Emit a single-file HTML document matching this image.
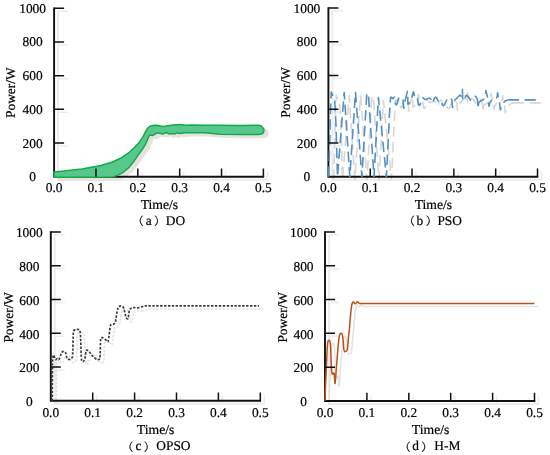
<!DOCTYPE html>
<html><head><meta charset="utf-8"><style>
html,body{margin:0;padding:0;background:#fff;}
svg{display:block;}
text{font-family:'Liberation Serif', 'Noto Serif CJK SC', serif;font-size:13.4px;fill:#000;stroke:#000;stroke-width:0.2px;}
.p{font-size:11.2px;}
</style></head><body>
<svg width="550" height="455" viewBox="0 0 550 455" text-rendering="geometricPrecision">
<defs>
<filter id="fa" x="-5%" y="-5%" width="115%" height="115%" color-interpolation-filters="sRGB">
<feGaussianBlur in="SourceAlpha" stdDeviation="0.6" result="b"/>
<feOffset in="b" dx="3.8" dy="3" result="o"/>
<feFlood flood-color="#ececec"/>
<feComposite in2="o" operator="in"/>
</filter>
<filter id="fg" x="-5%" y="-5%" width="115%" height="115%" color-interpolation-filters="sRGB">
<feGaussianBlur in="SourceAlpha" stdDeviation="0.7" result="b"/>
<feOffset in="b" dx="3.5" dy="2.6" result="o"/>
<feFlood flood-color="#e9e0e0"/>
<feComposite in2="o" operator="in"/>
</filter>
<filter id="fc" x="-5%" y="-5%" width="115%" height="115%" color-interpolation-filters="sRGB">
<feGaussianBlur in="SourceAlpha" stdDeviation="0.5" result="b"/>
<feOffset in="b" dx="4" dy="3.4" result="o"/>
<feFlood flood-color="#e3e2e0"/>
<feComposite in2="o" operator="in"/>
</filter>
<filter id="fb" x="-5%" y="-5%" width="115%" height="115%" color-interpolation-filters="sRGB">
<feGaussianBlur in="SourceAlpha" stdDeviation="0.5" result="b"/>
<feOffset in="b" dx="5" dy="3.3" result="o"/>
<feFlood flood-color="#d9d6d3"/>
<feComposite in2="o" operator="in"/>
</filter>
</defs>
<rect width="550" height="455" fill="#fff"/>

<g filter="url(#fa)"><path d="M54.1,7.45 L54.1,176.8 L264.15,176.8" fill="none" stroke="#000" stroke-width="1.9"/><path d="M54.1,8.2 L64.1,8.2 M263.4,176.8 L263.4,168.5 M54.1,143.08 L64.1,143.08 M54.1,109.36 L64.1,109.36 M54.1,75.64 L64.1,75.64 M54.1,41.92 L64.1,41.92 M95.96,176.8 L95.96,168.5 M137.82,176.8 L137.82,168.5 M179.68,176.8 L179.68,168.5 M221.54,176.8 L221.54,168.5" fill="none" stroke="#000" stroke-width="1.5"/><path d="M328.4,7.25 L328.4,176.8 L538.25,176.8" fill="none" stroke="#000" stroke-width="1.9"/><path d="M328.4,8 L338.4,8 M537.5,176.8 L537.5,168.5 M328.4,143.04 L338.4,143.04 M328.4,109.28 L338.4,109.28 M328.4,75.52 L338.4,75.52 M328.4,41.76 L338.4,41.76 M370.22,176.8 L370.22,168.5 M412.04,176.8 L412.04,168.5 M453.86,176.8 L453.86,168.5 M495.68,176.8 L495.68,168.5" fill="none" stroke="#000" stroke-width="1.5"/><path d="M50.8,231.15 L50.8,400.8 L261.05,400.8" fill="none" stroke="#000" stroke-width="1.9"/><path d="M50.8,231.9 L60.8,231.9 M260.3,400.8 L260.3,392.5 M50.8,367.02 L60.8,367.02 M50.8,333.24 L60.8,333.24 M50.8,299.46 L60.8,299.46 M50.8,265.68 L60.8,265.68 M92.7,400.8 L92.7,392.5 M134.6,400.8 L134.6,392.5 M176.5,400.8 L176.5,392.5 M218.4,400.8 L218.4,392.5" fill="none" stroke="#000" stroke-width="1.5"/><path d="M325,231.15 L325,401 L535.25,401" fill="none" stroke="#000" stroke-width="1.9"/><path d="M325,231.9 L335,231.9 M534.5,401 L534.5,392.7 M325,367.18 L335,367.18 M325,333.36 L335,333.36 M325,299.54 L335,299.54 M325,265.72 L335,265.72 M366.9,401 L366.9,392.7 M408.8,401 L408.8,392.7 M450.7,401 L450.7,392.7 M492.6,401 L492.6,392.7" fill="none" stroke="#000" stroke-width="1.5"/></g>
<g filter="url(#fg)"><path d="M54,172.1 L62,171.3 L72.7,170.1 L82,169 L90,167.6 L100.9,165.5 L111.8,162.3 L120.5,158.3 L128.2,153.2 L133.6,148.3 L138.9,142.7 L142.5,137.6 L145.5,131.8 L147.6,128.2 L150.5,126 L154.2,125.3 L158.5,125.6 L162.2,126.4 L165.8,126 L173,124.9 L180,124.5 L186,125.2 L192,124.9 L205,125.2 L220,125.3 L240,125.4 L258,125.3 L261,125.7 Q266,130 262.5,133.8 L258,134.4 L240,134.4 L220,134.3 L205,132.8 L192,132.8 L186,132.8 L179.5,133.5 L177,132.8 L174.5,134.1 L171.9,133.5 L169.4,134.1 L166.5,132.5 L164.4,133.3 L162.9,134 L160.7,133.6 L158.5,132.9 L155.6,133.6 L152.7,135.5 L150.5,135.1 L149.1,135.8 L148.4,137.6 L147,141 L145.2,144.8 L142.5,149 L138,155.3 L133.6,161.8 L128.2,168.2 L122.7,172.6 L118.4,174.9 L115,176.2 L112.5,177 L54,177.2 Z" fill="#000" stroke="#000" stroke-width="1.5"/></g>
<g filter="url(#fc)"><path d="M52.2,400.8 C52.22,398.17 52.25,391.27 52.3,385 C52.35,378.73 52.3,368.2 52.5,363.2 C52.63,359.9 53.03,355.62 53.5,355 C53.97,354.38 54.7,358.9 55.3,359.5 C55.87,360.07 56.5,358.6 57.1,358.6 C57.7,358.6 58.33,360.07 58.9,359.5 C59.5,358.9 60.1,356.3 60.7,355 C61.3,353.7 61.73,352.15 62.5,351.7 C63.27,351.25 64.66,351.35 65.3,352.3 C66.07,353.45 66.5,357.4 67.1,358.6 C67.46,359.32 68.3,359.5 68.9,359.5 C69.5,359.5 70.1,359.05 70.7,358.6 C71.3,358.15 72.4,357.81 72.5,356.8 C72.97,352.27 72.88,335.95 73.5,331.4 C73.68,330.09 75.15,329.65 76.2,329.5 C77.25,329.35 79.23,329.12 79.8,330.5 C80.55,332.33 80.46,336.49 80.7,340.5 C81,345.5 81.13,357.02 81.6,360.5 C81.71,361.33 82.91,361.99 83.5,361.4 C84.12,360.78 84.85,358.62 85.3,356.8 C85.75,354.98 85.6,351.4 86.2,350.5 C86.8,349.6 88.03,350.67 88.9,351.4 C89.8,352.15 90.68,353.95 91.6,355 C92.52,356.05 93.48,356.95 94.4,357.7 C95.32,358.45 96.2,359.35 97.1,359.5 C98,359.65 99.61,359.72 99.8,358.6 C100.4,355.12 100.25,342.08 100.7,338.6 C100.8,337.8 101.73,337.55 102.5,337.7 C103.27,337.85 104.38,338.88 105.3,339.5 C106.22,340.12 107.54,342.64 108,341.4 C108.9,338.98 109.78,327.88 110.7,325 C111.06,323.88 112.73,324.55 113.5,324.1 C114.27,323.65 115.03,323.28 115.3,322.3 C116.05,319.57 117.1,310.43 118,307.7 C118.41,306.47 119.78,305.9 120.7,305.9 C121.62,305.9 122.94,306.49 123.5,307.7 C124.42,309.67 125.45,315.88 126.2,317.7 C126.51,318.44 127.68,319.34 128,318.6 C128.6,317.23 128.88,311.32 129.8,309.5 C130.54,308.03 131.98,308 133.5,307.7 C135.02,307.4 137.08,307.98 138.9,307.7 C140.72,307.42 142.88,306.3 144.4,306 C145.81,305.72 146.56,305.9 148,305.9 C167.1,305.88 240.5,305.9 259,305.9" fill="none" stroke="#3a3a3a" stroke-width="1.7" stroke-dasharray="2.4 1.5" stroke-linejoin="round"/><path d="M325,400.9 C325.1,398.15 325.33,390.72 325.6,384.4 C325.87,378.08 326.32,369.32 326.6,363 C326.88,356.68 327.08,350.08 327.3,346.5 C327.42,344.49 327.63,342.55 327.9,341.5 C328.06,340.86 328.57,340.25 328.9,340.2 C329.23,340.15 329.75,340.65 329.9,341.2 C330.18,342.25 330.46,344.37 330.6,346.5 C330.8,349.58 330.95,355.85 331.1,359.7 C331.25,363.55 331.35,367.35 331.5,369.6 C331.6,371.05 331.8,372.43 332,373.2 C332.12,373.67 332.45,374.2 332.7,374.2 C332.95,374.2 333.27,373.37 333.5,373.2 C333.7,373.06 334.05,372.97 334.1,373.2 C334.27,373.97 334.37,376.07 334.5,377.8 C334.63,379.53 334.73,383.33 334.9,383.6 C335.07,383.87 335.34,381.09 335.5,379.4 C335.77,376.52 336.13,370.97 336.5,366.3 C336.87,361.63 337.32,355.8 337.7,351.4 C338.08,347 338.45,342.7 338.8,339.9 C339.07,337.76 339.43,335.7 339.8,334.6 C340.02,333.93 340.62,333.38 341,333.3 C341.38,333.22 341.94,333.58 342.1,334.1 C342.45,335.2 342.83,337.56 343.1,339.9 C343.38,342.38 343.55,347.08 343.8,349 C343.93,350 344.25,351 344.6,351.4 C344.94,351.79 345.48,351.62 345.9,351.4 C346.32,351.18 346.89,350.78 347.1,350.1 C347.43,349 347.68,346.93 347.9,344.8 C348.17,342.27 348.45,337.53 348.7,334.9 C348.92,332.53 349.17,331.37 349.4,329 C349.7,325.85 350.13,319.83 350.5,316 C350.87,312.17 351.25,308.27 351.6,306 C351.83,304.52 352.27,303.03 352.6,302.4 C352.79,302.04 353.28,302.03 353.6,302.2 C353.92,302.37 354.2,303.13 354.5,303.4 C354.79,303.66 355.07,303.95 355.4,303.8 C355.73,303.65 356.13,302.83 356.5,302.5 C356.87,302.17 357.25,301.75 357.6,301.8 C357.95,301.85 358.28,302.53 358.6,302.8 C358.92,303.07 359.08,303.3 359.5,303.4 C360.07,303.53 361,303.6 362,303.6 C391.17,303.63 505.75,303.6 534.5,303.6" fill="none" stroke="#ba531b" stroke-width="1.5" stroke-linejoin="round"/></g>
<g filter="url(#fb)"><path d="M328.6,176.8 L329.8,140 L330.5,109 L330.9,100 L331.3,92 L334.7,100.2 L336,125 L337.5,176.8 L344.2,92.6 L349.8,176.8 L355.5,92.2 L361.9,176.8 L366.8,93.4 L368.4,94.2 L374,176.8 L378.4,97.5 L386.4,176.8 L389.6,112 L389.9,106 L390.3,101.4 L390.6,97.4 L391.1,97.1 L392,98 L392.9,98.6 L393.7,97.7 L394.6,97.1 L395,100 L395.4,103.4 L396.3,104.9 L397.1,103.7 L398,99.7 L398.9,98 L399.4,97.7 L400.5,97 L402,98 L403.1,99.4 L403.7,108.3 L404.3,104 L404.9,100.9 L405.7,98.6 L407.4,91.4 L407.7,94.6 L407.9,104.3 L409,103.5 L410.6,101.4 L411.4,99.1 L412.6,94.6 L413.4,91.7 L414,93.4 L414.6,97.4 L415.4,99.1 L416.6,99.4 L417.7,98.9 L418.3,104.3 L419.4,105.4 L420.3,104.3 L421.4,100.3 L422.6,97.7 L424.5,99 L426.3,99.7 L427.4,98.9 L428.6,98.3 L430,98.3 L431.1,99.7 L431.4,102.6 L433.1,102 L434.3,98.3 L435.7,97.1 L436.6,97.7 L437.4,99.7 L438,100.9 L440,101 L441.7,100.9 L442.3,104.9 L443.4,105.7 L444.6,104.9 L445.4,102.6 L447,99.5 L449.4,97.9 L450.6,97.6 L451.9,100.1 L452.5,107.5 L453.7,103.8 L455.3,99.5 L456.2,98.8 L458,97 L460,95 L461.1,96.1 L462.4,89.6 L462.7,100.1 L463.9,100.7 L464.9,98.8 L465.8,95.7 L467,95.4 L468.5,97 L470.4,100.1 L472,97.6 L473.8,96.1 L475.7,96.4 L476.9,98.2 L477.5,100.1 L478,108.5 L478.6,103 L480.5,101 L483.1,99.8 L484.7,97.6 L485.6,93.3 L485.9,90.5 L486.5,93.3 L487.4,96.4 L488.4,102.5 L489,106.2 L490.2,101.9 L491.5,100.4 L492.7,100.1 L493.9,100.4 L495.2,99.5 L496.4,98.2 L497.3,96.4 L497.6,92.7 L498.2,96.4 L498.9,100.1 L499.5,101.9 L500.3,110 L503.2,103.2 L505,101 L507.9,100" fill="none" stroke="#5290c5" stroke-width="1.6" stroke-dasharray="10.5 5.2" stroke-linejoin="round"/><path d="M507.9,99.9 L536.2,99.9" fill="none" stroke="#5290c5" stroke-width="1.6" stroke-dasharray="11.1 5.7"/></g>
<path d="M54.1,7.45 L54.1,176.8 L264.15,176.8" fill="none" stroke="#111" stroke-width="1.9"/>
<path d="M328.4,7.25 L328.4,176.8 L538.25,176.8" fill="none" stroke="#111" stroke-width="1.9"/>
<path d="M50.8,231.15 L50.8,400.8 L261.05,400.8" fill="none" stroke="#111" stroke-width="1.9"/>
<path d="M325,231.15 L325,401 L535.25,401" fill="none" stroke="#111" stroke-width="1.9"/>
<path d="M54,172.1 L62,171.3 L72.7,170.1 L82,169 L90,167.6 L100.9,165.5 L111.8,162.3 L120.5,158.3 L128.2,153.2 L133.6,148.3 L138.9,142.7 L142.5,137.6 L145.5,131.8 L147.6,128.2 L150.5,126 L154.2,125.3 L158.5,125.6 L162.2,126.4 L165.8,126 L173,124.9 L180,124.5 L186,125.2 L192,124.9 L205,125.2 L220,125.3 L240,125.4 L258,125.3 L261,125.7 Q266,130 262.5,133.8 L258,134.4 L240,134.4 L220,134.3 L205,132.8 L192,132.8 L186,132.8 L179.5,133.5 L177,132.8 L174.5,134.1 L171.9,133.5 L169.4,134.1 L166.5,132.5 L164.4,133.3 L162.9,134 L160.7,133.6 L158.5,132.9 L155.6,133.6 L152.7,135.5 L150.5,135.1 L149.1,135.8 L148.4,137.6 L147,141 L145.2,144.8 L142.5,149 L138,155.3 L133.6,161.8 L128.2,168.2 L122.7,172.6 L118.4,174.9 L115,176.2 L112.5,177 L54,177.2 Z" fill="#58c78b" stroke="#12ab4a" stroke-width="1.5" stroke-linejoin="round"/><path d="M328.6,176.8 L329.8,140 L330.5,109 L330.9,100 L331.3,92 L334.7,100.2 L336,125 L337.5,176.8 L344.2,92.6 L349.8,176.8 L355.5,92.2 L361.9,176.8 L366.8,93.4 L368.4,94.2 L374,176.8 L378.4,97.5 L386.4,176.8 L389.6,112 L389.9,106 L390.3,101.4 L390.6,97.4 L391.1,97.1 L392,98 L392.9,98.6 L393.7,97.7 L394.6,97.1 L395,100 L395.4,103.4 L396.3,104.9 L397.1,103.7 L398,99.7 L398.9,98 L399.4,97.7 L400.5,97 L402,98 L403.1,99.4 L403.7,108.3 L404.3,104 L404.9,100.9 L405.7,98.6 L407.4,91.4 L407.7,94.6 L407.9,104.3 L409,103.5 L410.6,101.4 L411.4,99.1 L412.6,94.6 L413.4,91.7 L414,93.4 L414.6,97.4 L415.4,99.1 L416.6,99.4 L417.7,98.9 L418.3,104.3 L419.4,105.4 L420.3,104.3 L421.4,100.3 L422.6,97.7 L424.5,99 L426.3,99.7 L427.4,98.9 L428.6,98.3 L430,98.3 L431.1,99.7 L431.4,102.6 L433.1,102 L434.3,98.3 L435.7,97.1 L436.6,97.7 L437.4,99.7 L438,100.9 L440,101 L441.7,100.9 L442.3,104.9 L443.4,105.7 L444.6,104.9 L445.4,102.6 L447,99.5 L449.4,97.9 L450.6,97.6 L451.9,100.1 L452.5,107.5 L453.7,103.8 L455.3,99.5 L456.2,98.8 L458,97 L460,95 L461.1,96.1 L462.4,89.6 L462.7,100.1 L463.9,100.7 L464.9,98.8 L465.8,95.7 L467,95.4 L468.5,97 L470.4,100.1 L472,97.6 L473.8,96.1 L475.7,96.4 L476.9,98.2 L477.5,100.1 L478,108.5 L478.6,103 L480.5,101 L483.1,99.8 L484.7,97.6 L485.6,93.3 L485.9,90.5 L486.5,93.3 L487.4,96.4 L488.4,102.5 L489,106.2 L490.2,101.9 L491.5,100.4 L492.7,100.1 L493.9,100.4 L495.2,99.5 L496.4,98.2 L497.3,96.4 L497.6,92.7 L498.2,96.4 L498.9,100.1 L499.5,101.9 L500.3,110 L503.2,103.2 L505,101 L507.9,100" fill="none" stroke="#5290c5" stroke-width="1.6" stroke-dasharray="10.5 5.2" stroke-linejoin="round"/><path d="M507.9,99.9 L536.2,99.9" fill="none" stroke="#5290c5" stroke-width="1.6" stroke-dasharray="11.1 5.7"/><path d="M52.2,400.8 C52.22,398.17 52.25,391.27 52.3,385 C52.35,378.73 52.3,368.2 52.5,363.2 C52.63,359.9 53.03,355.62 53.5,355 C53.97,354.38 54.7,358.9 55.3,359.5 C55.87,360.07 56.5,358.6 57.1,358.6 C57.7,358.6 58.33,360.07 58.9,359.5 C59.5,358.9 60.1,356.3 60.7,355 C61.3,353.7 61.73,352.15 62.5,351.7 C63.27,351.25 64.66,351.35 65.3,352.3 C66.07,353.45 66.5,357.4 67.1,358.6 C67.46,359.32 68.3,359.5 68.9,359.5 C69.5,359.5 70.1,359.05 70.7,358.6 C71.3,358.15 72.4,357.81 72.5,356.8 C72.97,352.27 72.88,335.95 73.5,331.4 C73.68,330.09 75.15,329.65 76.2,329.5 C77.25,329.35 79.23,329.12 79.8,330.5 C80.55,332.33 80.46,336.49 80.7,340.5 C81,345.5 81.13,357.02 81.6,360.5 C81.71,361.33 82.91,361.99 83.5,361.4 C84.12,360.78 84.85,358.62 85.3,356.8 C85.75,354.98 85.6,351.4 86.2,350.5 C86.8,349.6 88.03,350.67 88.9,351.4 C89.8,352.15 90.68,353.95 91.6,355 C92.52,356.05 93.48,356.95 94.4,357.7 C95.32,358.45 96.2,359.35 97.1,359.5 C98,359.65 99.61,359.72 99.8,358.6 C100.4,355.12 100.25,342.08 100.7,338.6 C100.8,337.8 101.73,337.55 102.5,337.7 C103.27,337.85 104.38,338.88 105.3,339.5 C106.22,340.12 107.54,342.64 108,341.4 C108.9,338.98 109.78,327.88 110.7,325 C111.06,323.88 112.73,324.55 113.5,324.1 C114.27,323.65 115.03,323.28 115.3,322.3 C116.05,319.57 117.1,310.43 118,307.7 C118.41,306.47 119.78,305.9 120.7,305.9 C121.62,305.9 122.94,306.49 123.5,307.7 C124.42,309.67 125.45,315.88 126.2,317.7 C126.51,318.44 127.68,319.34 128,318.6 C128.6,317.23 128.88,311.32 129.8,309.5 C130.54,308.03 131.98,308 133.5,307.7 C135.02,307.4 137.08,307.98 138.9,307.7 C140.72,307.42 142.88,306.3 144.4,306 C145.81,305.72 146.56,305.9 148,305.9 C167.1,305.88 240.5,305.9 259,305.9" fill="none" stroke="#3a3a3a" stroke-width="1.7" stroke-dasharray="2.4 1.5" stroke-linejoin="round"/><path d="M325,400.9 C325.1,398.15 325.33,390.72 325.6,384.4 C325.87,378.08 326.32,369.32 326.6,363 C326.88,356.68 327.08,350.08 327.3,346.5 C327.42,344.49 327.63,342.55 327.9,341.5 C328.06,340.86 328.57,340.25 328.9,340.2 C329.23,340.15 329.75,340.65 329.9,341.2 C330.18,342.25 330.46,344.37 330.6,346.5 C330.8,349.58 330.95,355.85 331.1,359.7 C331.25,363.55 331.35,367.35 331.5,369.6 C331.6,371.05 331.8,372.43 332,373.2 C332.12,373.67 332.45,374.2 332.7,374.2 C332.95,374.2 333.27,373.37 333.5,373.2 C333.7,373.06 334.05,372.97 334.1,373.2 C334.27,373.97 334.37,376.07 334.5,377.8 C334.63,379.53 334.73,383.33 334.9,383.6 C335.07,383.87 335.34,381.09 335.5,379.4 C335.77,376.52 336.13,370.97 336.5,366.3 C336.87,361.63 337.32,355.8 337.7,351.4 C338.08,347 338.45,342.7 338.8,339.9 C339.07,337.76 339.43,335.7 339.8,334.6 C340.02,333.93 340.62,333.38 341,333.3 C341.38,333.22 341.94,333.58 342.1,334.1 C342.45,335.2 342.83,337.56 343.1,339.9 C343.38,342.38 343.55,347.08 343.8,349 C343.93,350 344.25,351 344.6,351.4 C344.94,351.79 345.48,351.62 345.9,351.4 C346.32,351.18 346.89,350.78 347.1,350.1 C347.43,349 347.68,346.93 347.9,344.8 C348.17,342.27 348.45,337.53 348.7,334.9 C348.92,332.53 349.17,331.37 349.4,329 C349.7,325.85 350.13,319.83 350.5,316 C350.87,312.17 351.25,308.27 351.6,306 C351.83,304.52 352.27,303.03 352.6,302.4 C352.79,302.04 353.28,302.03 353.6,302.2 C353.92,302.37 354.2,303.13 354.5,303.4 C354.79,303.66 355.07,303.95 355.4,303.8 C355.73,303.65 356.13,302.83 356.5,302.5 C356.87,302.17 357.25,301.75 357.6,301.8 C357.95,301.85 358.28,302.53 358.6,302.8 C358.92,303.07 359.08,303.3 359.5,303.4 C360.07,303.53 361,303.6 362,303.6 C391.17,303.63 505.75,303.6 534.5,303.6" fill="none" stroke="#ba531b" stroke-width="1.5" stroke-linejoin="round"/>
<path d="M54.1,8.2 L64.1,8.2 M263.4,176.8 L263.4,168.5 M54.1,143.08 L64.1,143.08 M54.1,109.36 L64.1,109.36 M54.1,75.64 L64.1,75.64 M54.1,41.92 L64.1,41.92 M95.96,176.8 L95.96,168.5 M137.82,176.8 L137.82,168.5 M179.68,176.8 L179.68,168.5 M221.54,176.8 L221.54,168.5" fill="none" stroke="#111" stroke-width="1.5"/>
<path d="M328.4,8 L338.4,8 M537.5,176.8 L537.5,168.5 M328.4,143.04 L338.4,143.04 M328.4,109.28 L338.4,109.28 M328.4,75.52 L338.4,75.52 M328.4,41.76 L338.4,41.76 M370.22,176.8 L370.22,168.5 M412.04,176.8 L412.04,168.5 M453.86,176.8 L453.86,168.5 M495.68,176.8 L495.68,168.5" fill="none" stroke="#111" stroke-width="1.5"/>
<path d="M50.8,231.9 L60.8,231.9 M260.3,400.8 L260.3,392.5 M50.8,367.02 L60.8,367.02 M50.8,333.24 L60.8,333.24 M50.8,299.46 L60.8,299.46 M50.8,265.68 L60.8,265.68 M92.7,400.8 L92.7,392.5 M134.6,400.8 L134.6,392.5 M176.5,400.8 L176.5,392.5 M218.4,400.8 L218.4,392.5" fill="none" stroke="#111" stroke-width="1.5"/>
<path d="M325,231.9 L335,231.9 M534.5,401 L534.5,392.7 M325,367.18 L335,367.18 M325,333.36 L335,333.36 M325,299.54 L335,299.54 M325,265.72 L335,265.72 M366.9,401 L366.9,392.7 M408.8,401 L408.8,392.7 M450.7,401 L450.7,392.7 M492.6,401 L492.6,392.7" fill="none" stroke="#111" stroke-width="1.5"/>
<text x="32.6" y="181.3" text-anchor="middle">0</text>
<text x="32.6" y="147.58" text-anchor="middle">200</text>
<text x="32.6" y="113.86" text-anchor="middle">400</text>
<text x="32.6" y="80.14" text-anchor="middle">600</text>
<text x="32.6" y="46.42" text-anchor="middle">800</text>
<text x="32.6" y="12.7" text-anchor="middle">1000</text>
<text x="306.9" y="181.4" text-anchor="middle">0</text>
<text x="306.9" y="147.64" text-anchor="middle">200</text>
<text x="306.9" y="113.88" text-anchor="middle">400</text>
<text x="306.9" y="80.12" text-anchor="middle">600</text>
<text x="306.9" y="46.36" text-anchor="middle">800</text>
<text x="306.9" y="12.6" text-anchor="middle">1000</text>
<text x="29.3" y="406.2" text-anchor="middle">0</text>
<text x="29.3" y="372.42" text-anchor="middle">200</text>
<text x="29.3" y="338.64" text-anchor="middle">400</text>
<text x="29.3" y="304.86" text-anchor="middle">600</text>
<text x="29.3" y="271.08" text-anchor="middle">800</text>
<text x="29.3" y="237.3" text-anchor="middle">1000</text>
<text x="303.5" y="406.2" text-anchor="middle">0</text>
<text x="303.5" y="372.38" text-anchor="middle">200</text>
<text x="303.5" y="338.56" text-anchor="middle">400</text>
<text x="303.5" y="304.74" text-anchor="middle">600</text>
<text x="303.5" y="270.92" text-anchor="middle">800</text>
<text x="303.5" y="237.1" text-anchor="middle">1000</text>
<text x="54.1" y="191.8" text-anchor="middle">0.0</text>
<text x="95.96" y="191.8" text-anchor="middle">0.1</text>
<text x="137.82" y="191.8" text-anchor="middle">0.2</text>
<text x="179.68" y="191.8" text-anchor="middle">0.3</text>
<text x="221.54" y="191.8" text-anchor="middle">0.4</text>
<text x="263.4" y="191.8" text-anchor="middle">0.5</text>
<text x="328.4" y="191.8" text-anchor="middle">0.0</text>
<text x="370.22" y="191.8" text-anchor="middle">0.1</text>
<text x="412.04" y="191.8" text-anchor="middle">0.2</text>
<text x="453.86" y="191.8" text-anchor="middle">0.3</text>
<text x="495.68" y="191.8" text-anchor="middle">0.4</text>
<text x="537.5" y="191.8" text-anchor="middle">0.5</text>
<text x="50.8" y="417" text-anchor="middle">0.0</text>
<text x="92.7" y="417" text-anchor="middle">0.1</text>
<text x="134.6" y="417" text-anchor="middle">0.2</text>
<text x="176.5" y="417" text-anchor="middle">0.3</text>
<text x="218.4" y="417" text-anchor="middle">0.4</text>
<text x="260.3" y="417" text-anchor="middle">0.5</text>
<text x="325" y="417" text-anchor="middle">0.0</text>
<text x="366.9" y="417" text-anchor="middle">0.1</text>
<text x="408.8" y="417" text-anchor="middle">0.2</text>
<text x="450.7" y="417" text-anchor="middle">0.3</text>
<text x="492.6" y="417" text-anchor="middle">0.4</text>
<text x="534.5" y="417" text-anchor="middle">0.5</text>
<text transform="translate(15.4,92.7) rotate(-90)" text-anchor="middle">Power/W</text>
<text transform="translate(289.6,92.5) rotate(-90)" text-anchor="middle">Power/W</text>
<text transform="translate(12.6,317.3) rotate(-90)" text-anchor="middle">Power/W</text>
<text transform="translate(286.5,317.3) rotate(-90)" text-anchor="middle">Power/W</text>
<text x="159.4" y="209.1" text-anchor="middle" style="font-size:13.7px">Time/s</text>
<text x="433.4" y="209.1" text-anchor="middle" style="font-size:13.7px">Time/s</text>
<text x="155.6" y="434.3" text-anchor="middle" style="font-size:13.7px">Time/s</text>
<text x="430.6" y="434.3" text-anchor="middle" style="font-size:13.7px">Time/s</text>
<text y="224.7"><tspan class="p" x="132.4" y="225.1">（</tspan><tspan x="145.7" y="224.7">a</tspan><tspan class="p" x="154.05" y="225.1">）</tspan><tspan x="165.8" y="224.7">DO</tspan></text>
<text y="224.5"><tspan class="p" x="403.7" y="224.9">（</tspan><tspan x="416.4" y="224.5">b</tspan><tspan class="p" x="425.85" y="224.9">）</tspan><tspan x="437.4" y="224.5">PSO</tspan></text>
<text y="450.3"><tspan class="p" x="122.3" y="450.7">（</tspan><tspan x="135.6" y="450.3">c</tspan><tspan class="p" x="143.85" y="450.7">）</tspan><tspan x="156.3" y="450.3">OPSO</tspan></text>
<text y="450.3"><tspan class="p" x="399.5" y="450.7">（</tspan><tspan x="412.3" y="450.3">d</tspan><tspan class="p" x="421.15" y="450.7">）</tspan><tspan x="434.3" y="450.3">H-M</tspan></text>
</svg></body></html>
